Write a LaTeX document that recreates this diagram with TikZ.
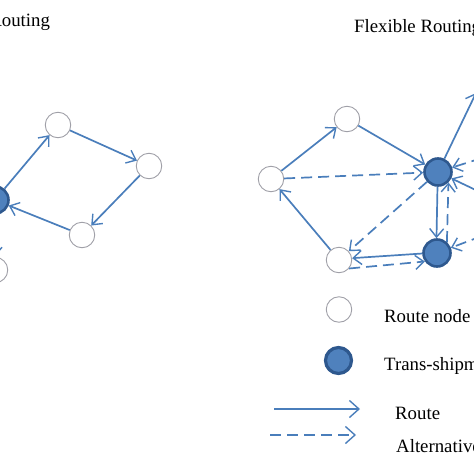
\documentclass[tikz,border=0pt]{standalone}
\usepackage{fontspec}
\setmainfont{Liberation Serif}
\usetikzlibrary{arrows.meta}
\definecolor{routeblue}{RGB}{74,126,187}
\definecolor{hubfill}{RGB}{79,129,189}
\definecolor{hubdraw}{RGB}{46,88,142}
\definecolor{nodegray}{RGB}{160,160,168}

\begin{document}
\begin{tikzpicture}[x=1pt,y=-1pt,
    routenode/.style={circle,draw=nodegray,line width=0.9pt,fill=white,minimum size=25.5pt,inner sep=0pt},
    hubnode/.style={circle,draw=hubdraw,line width=2.6pt,fill=hubfill,minimum size=27pt,inner sep=0pt},
    route/.style={routeblue,line width=1.7pt,-{Straight Barb[length=8.5pt,width=14pt,line width=1.4pt]}},
    altroute/.style={route,dash pattern=on 11pt off 6pt},
    legendtip/.style={-{Straight Barb[length=9.5pt,width=17pt,line width=1.4pt]}},
    lbl/.style={font=\fontsize{18.8}{20}\selectfont,anchor=base west,inner sep=0pt}]
    \clip (0,0) rectangle (474,474);
    % titles
    \node[lbl] (fixedtitle) at (-10.8,26) {Routing};
    \node[lbl] (flextitle) at (354,32) {Flexible Routing};
    % fixed routing
    \node[hubnode]   (d) at (-5,200) {};
    \node[routenode] (a) at (58,125) {};
    \node[routenode] (b) at (149,166) {};
    \node[routenode] (c) at (82,235) {};
    \node[routenode] (e) at (-5,270) {};
    \draw[route] (d) -- (a);
    \draw[route] (a) -- (b);
    \draw[route] (b) -- (c);
    \draw[route] (c) -- (d);
    \draw[route] (d) -- (e);
    % flexible routing
    \node[routenode] (f) at (347,119) {};
    \node[routenode] (g) at (271,179) {};
    \node[hubnode]   (h) at (438,172) {};
    \node[routenode] (i) at (339,260) {};
    \node[hubnode]   (j) at (437,253) {};
    \coordinate (kout) at (476,93);
    \coordinate (lin) at (482,158);
    \coordinate (min) at (482,193);
    \coordinate (nin) at (482,236);
    \draw[route] (g) -- (f);
    \draw[route] (f) -- (h);
    \draw[altroute] (g) -- (h);
    \draw[route] (i) -- (g);
    \draw[altroute] (h) -- (i);
    \draw[route] (h.-92) -- (j.92);
    \draw[altroute] (j.48) -- (h.-45);
    \draw[route] (j.182) -- (i.8);
    \draw[altroute] (i.-40) -- (j.-145);
    \draw[route] (h) -- (kout);
    \draw[altroute] (lin) -- (h);
    \draw[route] (min) -- (h);
    \draw[altroute] (nin) -- (j);
    % legend
    \node[routenode] (lroute) at (339,309.5) {};
    \node[hubnode,minimum size=26pt,line width=3.2pt] (lhub) at (338.5,360.5) {};
    \node[lbl] (lroutetext) at (384,322) {Route node};
    \node[lbl] (lhubtext) at (384,370) {Trans-shipment node};
    \coordinate (lr1) at (274,409);
    \coordinate (lr2) at (360,409);
    \coordinate (la1) at (270,435);
    \coordinate (la2) at (356,435);
    \draw[route,legendtip] (lr1) -- (lr2);
    \draw[altroute,legendtip] (la1) -- (la2);
    \node[lbl] (lrtext) at (395,419) {Route};
    \node[lbl] (latext) at (396,452) {Alternative route};
\end{tikzpicture}
\end{document}
